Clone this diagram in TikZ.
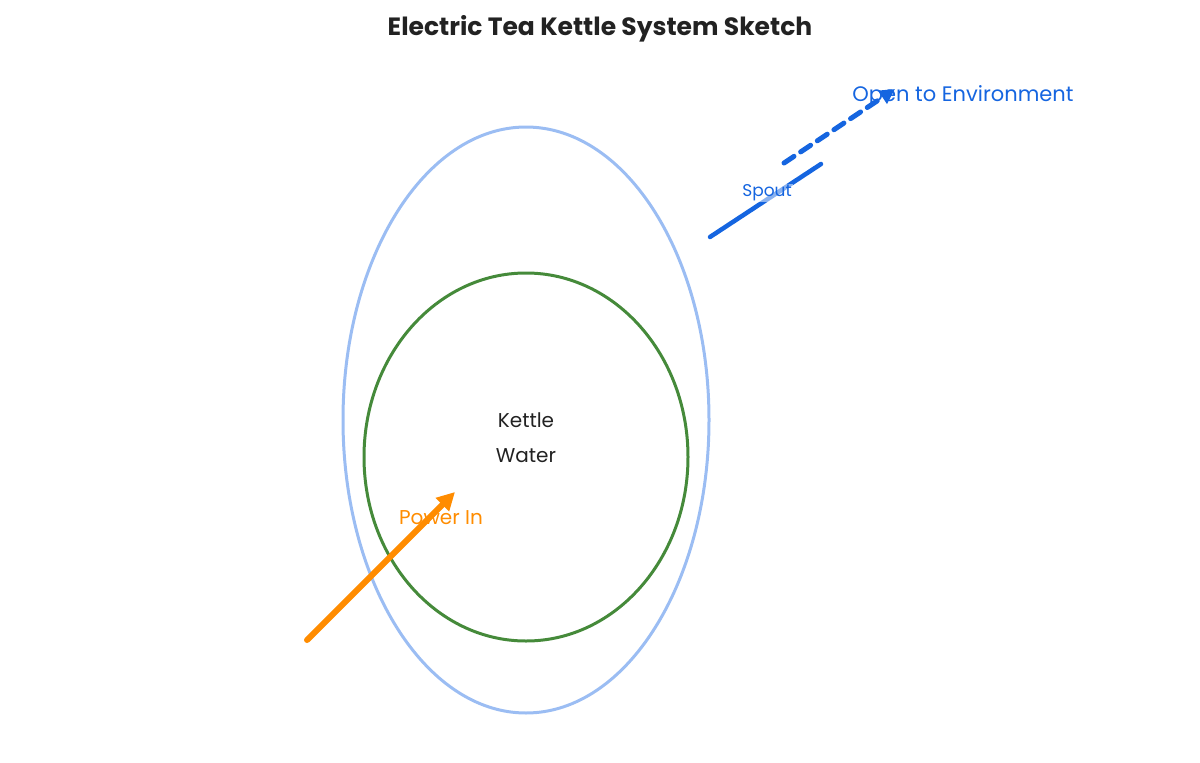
\documentclass[tikz,border=0pt]{standalone}
\usepackage{fontspec}
\setmainfont{Poppins}
\usetikzlibrary{arrows.meta}
\definecolor{outerblue}{HTML}{9BBDF3}
\definecolor{innergreen}{HTML}{458A3A}
\definecolor{spoutblue}{HTML}{1565E0}
\definecolor{powerorange}{HTML}{FF8C00}
\definecolor{txt}{HTML}{222222}
\tikzset{lbl/.style={font=\fontsize{20}{24}\selectfont, inner sep=1pt}}
\begin{document}
\begin{tikzpicture}[x=1pt,y=-1pt]
\useasboundingbox (0,0) rectangle (1200,763);
\node[font=\fontsize{25}{30}\selectfont\bfseries, text=txt] (title) at (600,29) {Electric Tea Kettle System Sketch};
\draw[outerblue, line width=3pt] (526,420) ellipse [x radius=183, y radius=293];
\draw[innergreen, line width=3pt] (526,457) ellipse [x radius=162, y radius=184];
\node[lbl, text=txt] (k) at (526,420) {Kettle};
\node[lbl, text=txt] (w) at (526,456) {Water};
\coordinate (p1) at (307,640);
\coordinate (p2) at (455,492);
\draw[powerorange, line width=6pt, line cap=round, -{Triangle[length=18pt,width=18pt]}] (p1) -- (p2);
\node[lbl, text=powerorange] (pin) at (441,518) {Power In};
\coordinate (s1) at (710,237);
\coordinate (s2) at (821,164);
\draw[spoutblue, line width=4.5pt, line cap=round] (s1) -- (s2);
\node[font=\fontsize{17}{20}\selectfont, text=spoutblue, fill=white, fill opacity=0.5, text opacity=1, inner sep=1pt] (sp) at (767,193) {Spout};
\coordinate (d1) at (784,163);
\coordinate (d2) at (895,89);
\draw[spoutblue, line width=5pt, line cap=round, dash pattern=on 12pt off 8pt, -{Triangle[length=15pt,width=15pt]}] (d1) -- (d2);
\node[lbl, text=spoutblue, font=\fontsize{21}{24}\selectfont] (env) at (963,96) {Open to Environment};
\end{tikzpicture}
\end{document}
